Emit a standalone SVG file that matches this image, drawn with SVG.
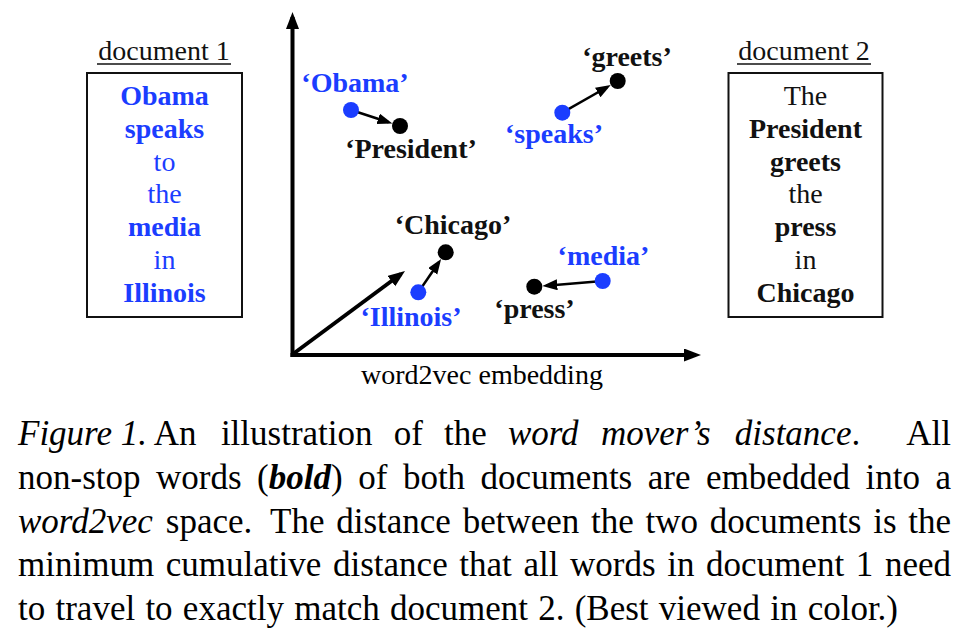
<svg xmlns="http://www.w3.org/2000/svg" width="961" height="642" viewBox="0 0 961 642" font-family="'Liberation Serif', 'Tinos', 'Times New Roman', 'DejaVu Serif', serif">
<style>
text{font-family:"Liberation Serif","Tinos","Times New Roman","DejaVu Serif",serif;}
.lbl{font-size:28px;text-anchor:middle;}
.b{font-weight:bold;}
.blue{fill:#1b3dff;}
.blk{fill:#111;}
.box{fill:#fff;stroke:#111;stroke-width:2;}
.ul{stroke:#111;stroke-width:1.5;}
.dotb{fill:#1b3dff;}
.dotk{fill:#000;}
.axis{stroke:#000;stroke-width:4;fill:none;}
.conn{stroke:#000;stroke-width:2.5;fill:none;}
.cap{font-size:35px;fill:#000;}
.it{font-style:italic;}
</style>
<defs>
<marker id="bigHead" markerUnits="userSpaceOnUse" markerWidth="18" markerHeight="14" refX="12" refY="6.5" orient="auto">
<path d="M0,0 L17,6.5 L0,13 Z" fill="#000"/>
</marker>
<marker id="smallHead" markerUnits="userSpaceOnUse" markerWidth="16" markerHeight="12" refX="11" refY="5.5" orient="auto">
<path d="M0,0 L15,5.5 L0,11 Z" fill="#000"/>
</marker>
</defs>

<g id="axes">
<line class="axis" x1="292.5" y1="357" x2="292.5" y2="17" marker-end="url(#bigHead)"/>
<line class="axis" x1="290.5" y1="355" x2="696" y2="355" marker-end="url(#bigHead)"/>
<text class="lbl" x="482" y="384">word2vec embedding</text>
</g>

<g id="doc1">
<text class="lbl blk" x="164" y="60">document 1</text>
<line class="ul" x1="97" y1="64" x2="231" y2="64"/>
<rect class="box" x="87" y="73" width="155" height="244"/>
<text class="lbl blue b" x="164.5" y="105">Obama</text>
<text class="lbl blue b" x="164.5" y="137.8">speaks</text>
<text class="lbl blue" x="164.5" y="170.6">to</text>
<text class="lbl blue" x="164.5" y="203.4">the</text>
<text class="lbl blue b" x="164.5" y="236.2">media</text>
<text class="lbl blue" x="164.5" y="269">in</text>
<text class="lbl blue b" x="164.5" y="301.8">Illinois</text>
</g>

<g id="doc2">
<text class="lbl blk" x="804" y="60">document 2</text>
<line class="ul" x1="737" y1="64" x2="871" y2="64"/>
<rect class="box" x="728.5" y="73" width="154" height="244"/>
<text class="lbl blk" x="805.5" y="105">The</text>
<text class="lbl blk b" x="805.5" y="137.8">President</text>
<text class="lbl blk b" x="805.5" y="170.6">greets</text>
<text class="lbl blk" x="805.5" y="203.4">the</text>
<text class="lbl blk b" x="805.5" y="236.2">press</text>
<text class="lbl blk" x="805.5" y="269">in</text>
<text class="lbl blk b" x="805.5" y="301.8">Chicago</text>
</g>

<g id="connectors">
<line class="axis" x1="293" y1="354" x2="401" y2="274" marker-end="url(#bigHead)"/>
<line class="conn" x1="351" y1="110" x2="388.6" y2="122.3" marker-end="url(#smallHead)"/>
<line class="conn" x1="562.3" y1="112.7" x2="607.3" y2="87" marker-end="url(#smallHead)"/>
<line class="conn" x1="418.3" y1="292.3" x2="438.9" y2="262.2" marker-end="url(#smallHead)"/>
<line class="conn" x1="602.7" y1="281" x2="546.3" y2="285.7" marker-end="url(#smallHead)"/>
</g>

<g id="node-obama">
<circle class="dotb" cx="351" cy="110" r="8"/>
<text class="lbl blue b" x="355" y="92">‘Obama’</text>
</g>
<g id="node-president">
<circle class="dotk" cx="400" cy="126" r="8"/>
<text class="lbl blk b" x="411" y="158">‘President’</text>
</g>
<g id="node-greets">
<circle class="dotk" cx="617.7" cy="81" r="8"/>
<text class="lbl blk b" x="627" y="66">‘greets’</text>
</g>
<g id="node-speaks">
<circle class="dotb" cx="562.3" cy="112.7" r="8"/>
<text class="lbl blue b" x="554" y="143">‘speaks’</text>
</g>
<g id="node-chicago">
<circle class="dotk" cx="445.7" cy="252.3" r="8"/>
<text class="lbl blk b" x="453" y="234">‘Chicago’</text>
</g>
<g id="node-illinois">
<circle class="dotb" cx="418.3" cy="292.3" r="8"/>
<text class="lbl blue b" x="411" y="325.5">‘Illinois’</text>
</g>
<g id="node-media">
<circle class="dotb" cx="602.7" cy="281" r="8"/>
<text class="lbl blue b" x="603.5" y="265">‘media’</text>
</g>
<g id="node-press">
<circle class="dotk" cx="534.3" cy="286.7" r="8"/>
<text class="lbl blk b" x="534.5" y="318">‘press’</text>
</g>

<g id="caption">
<text class="cap" y="445"><tspan x="18" class="it">Figure 1.</tspan> An<tspan x="220.9">illustration</tspan><tspan x="393.7">of</tspan><tspan x="444">the</tspan><tspan x="507.9" class="it">word</tspan><tspan x="601" class="it">mover’s</tspan><tspan x="734.8" class="it">distance</tspan><tspan>.</tspan><tspan x="906.3">All</tspan></text>
<text class="cap" y="488.75"><tspan x="18">non-stop</tspan><tspan x="156">words</tspan><tspan x="257.1">(</tspan><tspan class="it b">bold</tspan><tspan>)</tspan><tspan x="358.2">of</tspan><tspan x="402.9">both</tspan><tspan x="480.6">documents</tspan><tspan x="647.8">are</tspan><tspan x="706.1">embedded</tspan><tspan x="865.5">into</tspan><tspan x="935.5">a</tspan></text>
<text class="cap" y="532.5"><tspan x="18" class="it">word2vec</tspan><tspan x="165.8">space.</tspan><tspan x="270">The</tspan><tspan x="336.2">distance</tspan><tspan x="462.7">between</tspan><tspan x="591">the</tspan><tspan x="645.5">two</tspan><tspan x="709.8">documents</tspan><tspan x="873.2">is</tspan><tspan x="908.3">the</tspan></text>
<text class="cap" y="576.25"><tspan x="18">minimum</tspan><tspan x="165.8">cumulative</tspan><tspan x="333">distance</tspan><tspan x="459.3">that</tspan><tspan x="523.5">all</tspan><tspan x="570.1">words</tspan><tspan x="667.3">in</tspan><tspan x="706.1">document</tspan><tspan x="855.8">1</tspan><tspan x="884.9">need</tspan></text>
<text class="cap" x="18" y="620" word-spacing="1.5">to travel to exactly match document 2. (Best viewed in color.)</text>
</g>
</svg>
